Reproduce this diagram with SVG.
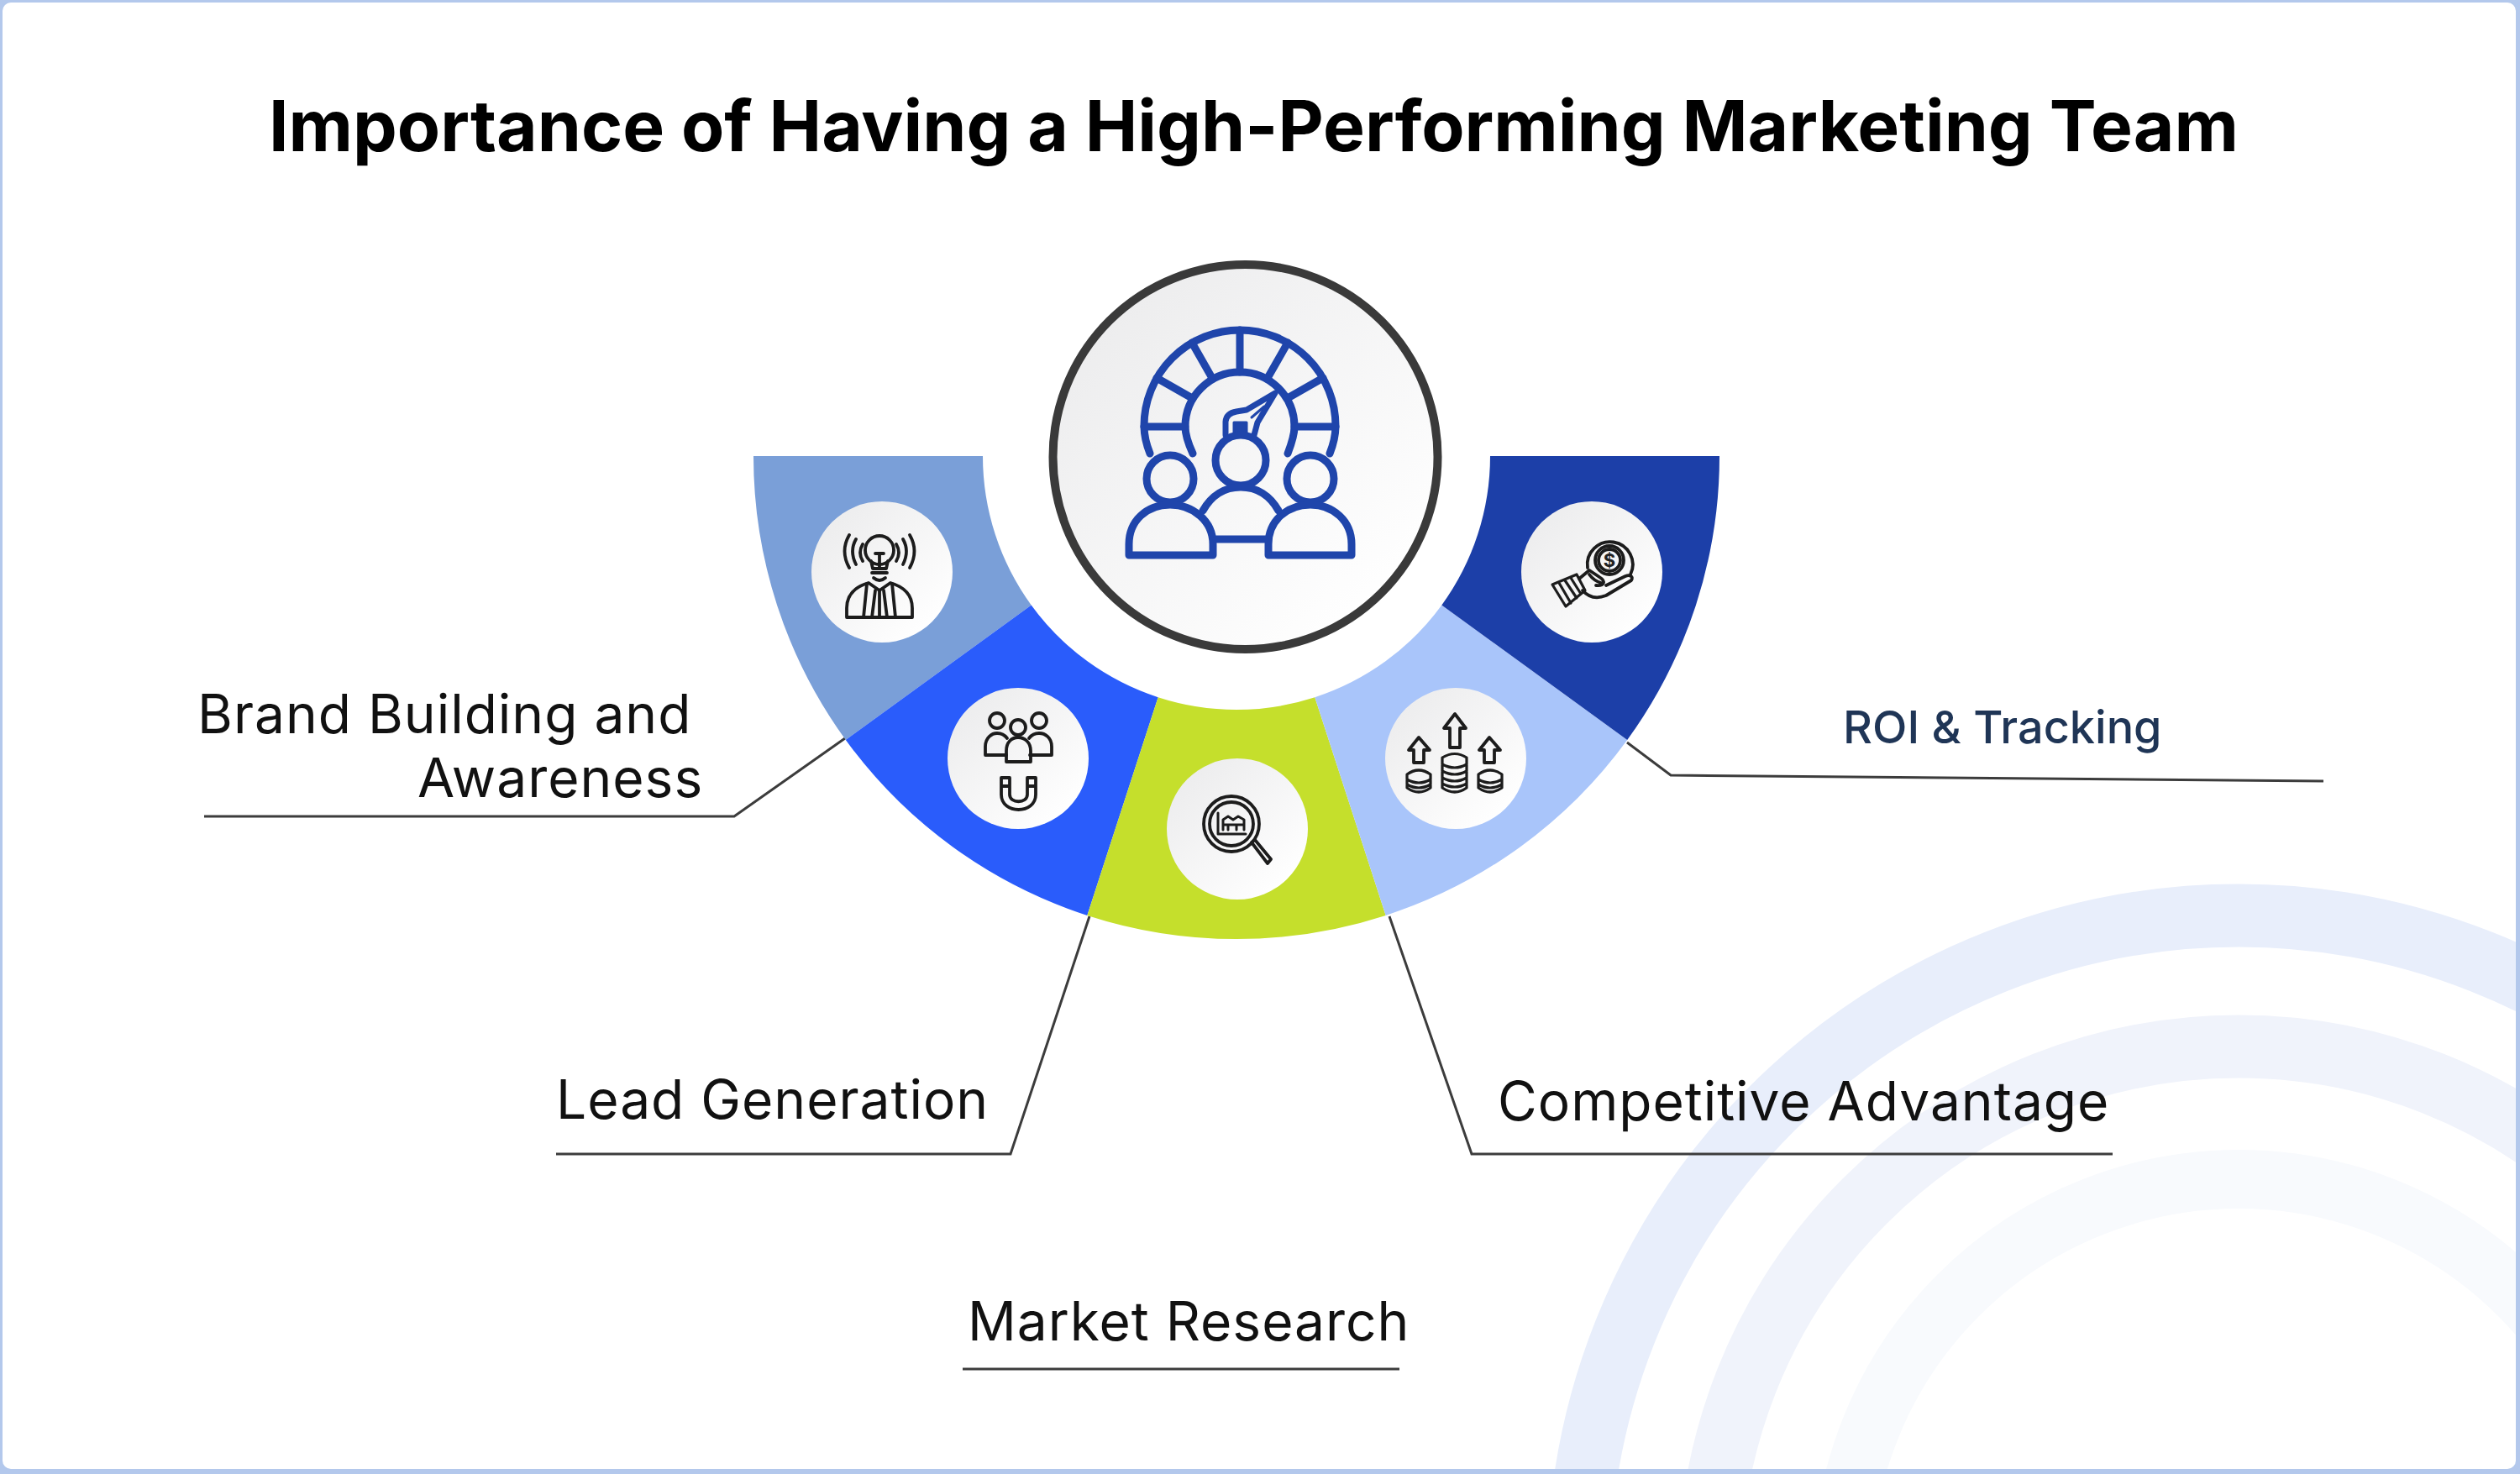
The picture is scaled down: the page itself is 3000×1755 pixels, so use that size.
<svg xmlns="http://www.w3.org/2000/svg" width="3000" height="1755" viewBox="0 0 3000 1755">
<defs>
<linearGradient id="disc" x1="0.1" y1="0.1" x2="0.85" y2="0.9"><stop offset="0" stop-color="#ececed"/><stop offset="1" stop-color="#ffffff"/></linearGradient>
<clipPath id="frame"><rect x="3" y="3" width="2992" height="1746" rx="10"/></clipPath>
</defs>
<style>
.lbl{font-family:"Inter","Liberation Sans",sans-serif;font-size:64px;fill:#111;letter-spacing:1px}
.ttl{font-family:"Inter","Liberation Sans",sans-serif;font-size:83.8px;font-weight:700;fill:#000}
.roi{font-family:"Inter","Liberation Sans",sans-serif;font-size:54px;font-weight:500;fill:#1f3556}
.conn{fill:none;stroke:#3c3c3c;stroke-width:3}
.disc{fill:url(#disc)}
.ic{fill:none;stroke:#1c1c1c;stroke-width:3.8;stroke-linejoin:round;stroke-linecap:round}
.big{fill:none;stroke:#1f45ab;stroke-width:9;stroke-linejoin:round;stroke-linecap:round}
.ring{fill:none}
</style>
<rect width="3000" height="1755" fill="#b3c8ec"/>
<rect x="3" y="3" width="2992" height="1746" rx="10" fill="#ffffff"/>
<g id="backdrop" clip-path="url(#frame)">
<circle class="ring" cx="2665" cy="1876" r="786" stroke="#e8eefb" stroke-width="75"/>
<circle class="ring" cx="2665" cy="1876" r="630" stroke="#f0f3fb" stroke-width="75"/>
<circle class="ring" cx="2665" cy="1876" r="472" stroke="#f8fafd" stroke-width="70"/>
</g>
<text id="title" class="ttl" x="320" y="180">Importance of Having a High-Performing Marketing Team</text>
<g id="connectors">
<polyline class="conn" points="243,972 874,972 1006,879"/>
<polyline class="conn" points="662,1374 1203,1374 1297,1091"/>
<polyline class="conn" points="2515,1374 1752,1374 1654,1091"/>
<polyline class="conn" points="1937,884 1989,923 2766,930"/>
<line class="conn" x1="1146" y1="1630" x2="1666" y2="1630"/>
</g>
<g id="node-brand">
<path d="M897,543 A575,575 0 0 0 1006.8,881 L1227.7,720.5 A302,302 0 0 1 1170,543 Z" fill="#7a9fd8"/>
<circle class="disc" cx="1050" cy="681" r="84"/>
<g class="ic">
<circle cx="1047" cy="655" r="17"/>
<path d="M1037,668 L1039,677 H1055 L1057,668 M1038,682 H1056 M1040,688 Q1047,694 1054,688 M1047,677 V660 M1042,659 H1052"/>
<path d="M1027,648 Q1021,658 1027,668 M1019,642 Q1011,656 1019,672 M1011,637 Q1000,656 1011,676"/>
<path d="M1067,648 Q1073,658 1067,668 M1075,642 Q1083,656 1075,672 M1083,637 Q1094,656 1083,676"/>
<path d="M1008,735 V724 C1008,707 1020,698 1034,694 L1047,703 L1060,694 C1074,698 1086,707 1086,724 V735 Z"/>
<path d="M1032,695 L1028,735 M1062,695 L1066,735 M1042,703 L1038,735 M1052,703 L1056,735 M1047,703 V735"/>
</g>
<text class="lbl" x="235" y="873">Brand Building and</text>
<text class="lbl" x="497" y="949">Awareness</text>
</g>
<g id="node-lead">
<path d="M1006.8,881 A575,575 0 0 0 1294.3,1089.9 L1378.7,830.2 A302,302 0 0 1 1227.7,720.5 Z" fill="#2a5cfb"/>
<circle class="disc" cx="1212" cy="903" r="84"/>
<g class="ic">
<circle cx="1187" cy="858" r="9"/><circle cx="1237" cy="858" r="9"/><circle cx="1212" cy="866" r="9"/>
<path d="M1198,899 H1173 V889 C1173,878 1181,873 1187,873 C1192,873 1196,875 1199,879"/>
<path d="M1226,899 H1252 V889 C1252,878 1244,873 1237,873 C1232,873 1228,875 1225,879"/>
<path d="M1198,907 H1227 V894 C1227,884 1220,878 1212,878 C1204,878 1198,884 1198,894 Z"/>
<path d="M1192,926 V946 C1192,970 1233,970 1233,946 V926 H1223 V946 C1223,957 1202,957 1202,946 V926 Z M1192,936 H1202 M1223,936 H1233"/>
</g>
<text class="lbl" x="662" y="1332">Lead Generation</text>
</g>
<g id="node-market">
<path d="M1294.3,1089.9 A575,575 0 0 0 1649.7,1089.9 L1565.3,830.2 A302,302 0 0 1 1378.7,830.2 Z" fill="#c5df2c"/>
<circle class="disc" cx="1473" cy="987" r="84"/>
<g class="ic">
<circle cx="1466" cy="981" r="33"/><circle cx="1466" cy="981" r="26"/>
<path d="M1450,968 V993 H1483 M1456,988 V976 L1462,972 L1468,976 L1474,972 L1481,976 V988 M1456,982 H1481 M1462,982 V988 M1472,982 V988" stroke-width="3"/>
<path d="M1490,1003 L1494,1000 L1513,1023 L1509,1028 Z"/>
</g>
<text class="lbl" x="1152" y="1596">Market Research</text>
</g>
<g id="node-competitive">
<path d="M1649.7,1089.9 A575,575 0 0 0 1937.2,881 L1716.3,720.5 A302,302 0 0 1 1565.3,830.2 Z" fill="#a9c5fa"/>
<circle class="disc" cx="1733" cy="903" r="84"/>
<g class="ic">
<path d="M1689,878 L1677,893 H1683 V908 H1695 V893 H1702 Z"/>
<path d="M1732,850 L1719,867 H1726 V890 H1738 V867 H1745 Z"/>
<path d="M1773,878 L1761,893 H1767 V908 H1779 V893 H1786 Z"/>
<path d="M1675,922 Q1689,912 1703,922 V938 Q1689,948 1675,938 Z M1675,928 Q1689,936 1703,928 M1675,934 Q1689,942 1703,934" stroke-width="3.2"/>
<path d="M1717,902 Q1732,893 1746,902 V938 Q1732,948 1717,938 Z M1717,910 Q1732,918 1746,910 M1717,918 Q1732,926 1746,918 M1717,926 Q1732,934 1746,926 M1717,933 Q1732,941 1746,933" stroke-width="3.2"/>
<path d="M1760,922 Q1774,912 1788,922 V938 Q1774,948 1760,938 Z M1760,928 Q1774,936 1788,928 M1760,934 Q1774,942 1788,934" stroke-width="3.2"/>
</g>
<text class="lbl" x="1783" y="1334">Competitive Advantage</text>
</g>
<g id="node-roi">
<path d="M1937.2,881 A575,575 0 0 0 2047,543 H1774 A302,302 0 0 1 1716.3,720.5 Z" fill="#1c3fa8"/>
<circle class="disc" cx="1895" cy="681" r="84"/>
<g class="ic">
<path d="M1890,676 A27,27 0 1 1 1941,684"/>
<path d="M1892,684 A27,27 0 0 0 1906,694"/>
<circle cx="1916" cy="667" r="17"/><circle cx="1916" cy="667" r="13"/>
<path d="M1848,696 L1877,684 L1887,703 L1864,722 Z M1856,694 L1870,718 M1863,691 L1877,712 M1870,688 L1882,707" stroke-width="3.2"/>
<path d="M1880,689 L1892,679 L1904,687 C1912,692 1910,698 1900,697 M1884,703 C1892,712 1902,713 1912,709 L1942,691 C1945,686 1940,684 1935,686 L1912,697"/>
</g>
<text x="1916" y="675" font-family="Inter,'Liberation Sans',sans-serif" font-size="22" font-weight="700" fill="#222" text-anchor="middle">$</text>
<text class="roi" x="2194" y="885">ROI &amp; Tracking</text>
</g>
<g id="node-center">
<circle cx="1482.5" cy="544" r="229" fill="url(#disc)" stroke="#3a3a3a" stroke-width="10"/>
<g class="big">
<path d="M1369,540 C1363,525 1362,515 1362,507 A114,114 0 0 1 1590,507 C1590,515 1589,525 1583,540"/>
<path d="M1420,540 C1414,527 1411,518 1411,508 A65,65 0 0 1 1541,508 C1541,518 1538,527 1533,540"/>
<path d="M1476,393 V443 M1362,508 H1411 M1541,508 H1590 M1419,408 L1443.5,451 M1377,450 L1420,474.5 M1533,408 L1508.5,451 M1575,450 L1532,474.5"/>
<path d="M1459,518 V502 Q1460,492 1472,490 L1484,488 L1518,468 L1497,503 L1493,518" stroke-width="7"/>
<path d="M1490,497 L1505,484" stroke-width="3"/>
<rect x="1469" y="503" width="15" height="14" fill="#1f45ab" stroke-width="3"/>
<circle cx="1393" cy="570" r="28"/><circle cx="1477" cy="548" r="30"/><circle cx="1560" cy="570" r="28"/>
<path d="M1344,661 V648 C1344,620 1365,601 1393,601 C1420,601 1444,620 1444,648 V661 Z"/>
<path d="M1510,661 V648 C1510,620 1532,601 1560,601 C1587,601 1609,620 1609,648 V661 Z"/>
<path d="M1432,608 C1442,590 1458,580 1477,580 C1496,580 1512,590 1522,608 M1448,642 H1506"/>
</g>
</g>
</svg>
